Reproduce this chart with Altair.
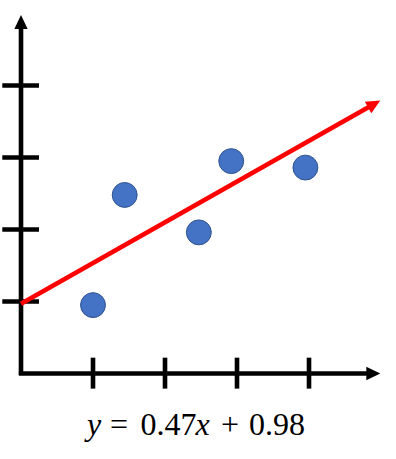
import altair as alt
import pandas as pd

# Scatter points (1 unit = one tick interval)
pt_x = [1.00, 1.44, 2.47, 2.92, 3.95]
pt_y = [0.95, 2.48, 1.96, 2.95, 2.86]

# Red trend arrow (as drawn)
line_x = [0.0, 4.88]
line_y = [0.97, 3.73]
line_tip = (4.99, 3.79)

# Axes
x_ticks = [1, 2, 3, 4]
y_ticks = [1, 2, 3, 4]
axis_end = 4.85
x_tip = 4.99
y_tip = 4.98

eq_parts = ["y", "=", "0.47", "x", "+", "0.98"]
eq_italic = [True, False, False, True, False, False]

W, H = 396, 459
xs = alt.Scale(domain=[-0.2917, 5.2083], nice=False, zero=False)
ys = alt.Scale(domain=[-1.1875, 5.1875], nice=False, zero=False)
X = lambda f: alt.X(f, scale=xs, axis=None)
Y = lambda f: alt.Y(f, scale=ys, axis=None)

arrow_path = "M0,0 L-2,-0.95 L-2,0.95 Z"

# axis lines
axes_df = pd.DataFrame({"x": [-0.03, 0.0], "y": [0.0, -0.02],
                        "x2": [axis_end, 0.0], "y2": [0.0, axis_end]})
axes = alt.Chart(axes_df).mark_rule(color="black", strokeWidth=4.6).encode(
    x=X("x:Q"), y=Y("y:Q"), x2="x2:Q", y2="y2:Q")

xt_df = pd.DataFrame({"x": x_ticks, "y": [-0.21] * 4, "y2": [0.22] * 4})
xt = alt.Chart(xt_df).mark_rule(color="black", strokeWidth=4.6).encode(
    x=X("x:Q"), y=Y("y:Q"), y2="y2:Q")
yt_df = pd.DataFrame({"y": y_ticks, "x": [-0.26] * 4, "x2": [0.25] * 4})
yt = alt.Chart(yt_df).mark_rule(color="black", strokeWidth=4.6).encode(
    y=Y("y:Q"), x=X("x:Q"), x2="x2:Q")

heads_df = pd.DataFrame({"x": [x_tip, 0.0], "y": [0.0, y_tip], "a": [0, 270]})
heads = alt.Chart(heads_df).mark_point(shape=arrow_path, filled=True, color="black",
                                       size=196, opacity=1, strokeWidth=0).encode(
    x=X("x:Q"), y=Y("y:Q"), angle=alt.Angle("a:Q", scale=None))

# red trend line
line_df = pd.DataFrame({"x": line_x, "y": line_y})
trend = alt.Chart(line_df).mark_line(color="#FF0000", strokeWidth=4.6, strokeCap="butt").encode(
    x=X("x:Q"), y=Y("y:Q"))
rh_df = pd.DataFrame({"x": [line_tip[0]], "y": [line_tip[1]], "a": [330.5]})
red_head = alt.Chart(rh_df).mark_point(shape=arrow_path, filled=True, color="#FF0000",
                                       size=196, opacity=1, strokeWidth=0).encode(
    x=X("x:Q"), y=Y("y:Q"), angle=alt.Angle("a:Q", scale=None))

pts_df = pd.DataFrame({"x": pt_x, "y": pt_y})
pts = alt.Chart(pts_df).mark_circle(size=620, color="#4472C4", opacity=1,
                                    stroke="#2F528F", strokeWidth=1).encode(
    x=X("x:Q"), y=Y("y:Q"))

# equation text
eq_x = [87, 110, 140.5, 195.5, 221, 249]
one = pd.DataFrame({"a": [0]})
texts = []
for t, it, px in zip(eq_parts, eq_italic, eq_x):
    texts.append(alt.Chart(one).mark_text(
        text=t, font="Liberation Serif", fontSize=32, align="left", baseline="alphabetic",
        fontStyle="italic" if it else "normal", color="black").encode(
        x=alt.value(px), y=alt.value(435)))

chart = alt.layer(axes, xt, yt, heads, trend, red_head, pts, *texts).properties(
    width=W, height=H, padding=0, autosize=alt.AutoSizeParams(type="none"),
    background="white").configure_view(stroke=None)

chart.save("out.html", embed_options={"renderer": "svg", "actions": False})
